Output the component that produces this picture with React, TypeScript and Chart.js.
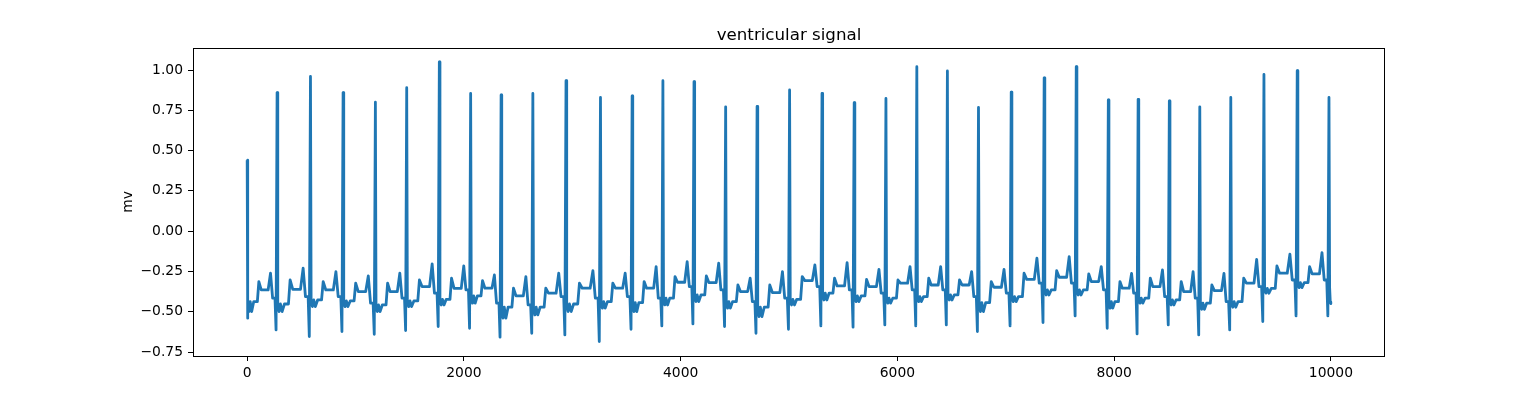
import { useEffect, useRef } from 'react';
import { Chart, registerables } from 'chart.js';
Chart.register(...registerables);

// R-peak sample positions and heights (mv)
const rX = [0, 276, 584, 885, 1183, 1472, 1773, 2062, 2343, 2636, 2942, 3260, 3552, 3836, 4123, 4415, 4705, 5005, 5304, 5601, 5894, 6179, 6461, 6748, 7050, 7354, 7650, 7946, 8221, 8509, 8790, 9076, 9382, 9689, 9982];
const rY = [0.44, 0.86, 0.96, 0.86, 0.80, 0.89, 1.05, 0.855, 0.845, 0.855, 0.934, 0.83, 0.839, 0.934, 0.928, 0.772, 0.774, 0.876, 0.855, 0.797, 0.824, 1.021, 0.994, 0.768, 0.863, 0.952, 1.021, 0.814, 0.818, 0.808, 0.772, 0.83, 0.973, 0.996, 0.83];

// per-beat levels read between consecutive R peaks
const baseY = [-0.437, -0.452, -0.427, -0.433, -0.458, -0.433, -0.423, -0.402, -0.472, -0.472, -0.452, -0.437, -0.443, -0.416, -0.396, -0.437, -0.472, -0.423, -0.385, -0.402, -0.416, -0.406, -0.396, -0.443, -0.406, -0.365, -0.365, -0.437, -0.416, -0.427, -0.447, -0.437, -0.355, -0.32];
const lowY = [-0.499, -0.499, -0.468, -0.468, -0.499, -0.468, -0.458, -0.447, -0.540, -0.520, -0.499, -0.478, -0.499, -0.458, -0.437, -0.478, -0.530, -0.458, -0.427, -0.437, -0.447, -0.437, -0.427, -0.499, -0.437, -0.396, -0.396, -0.478, -0.447, -0.458, -0.485, -0.472, -0.385, -0.35];
const tY = [-0.313, -0.303, -0.313, -0.323, -0.323, -0.303, -0.292, -0.307, -0.354, -0.354, -0.323, -0.323, -0.313, -0.282, -0.278, -0.334, -0.334, -0.282, -0.292, -0.299, -0.303, -0.292, -0.303, -0.313, -0.261, -0.245, -0.265, -0.313, -0.292, -0.313, -0.334, -0.292, -0.216, -0.220];
const plateauY = [-0.365, -0.361, -0.365, -0.375, -0.375, -0.344, -0.355, -0.354, -0.402, -0.385, -0.354, -0.354, -0.354, -0.317, -0.319, -0.375, -0.381, -0.307, -0.340, -0.344, -0.323, -0.334, -0.334, -0.348, -0.299, -0.286, -0.313, -0.354, -0.344, -0.375, -0.369, -0.323, -0.261, -0.265];
const bumpY = [-0.261, -0.230, -0.251, -0.278, -0.261, -0.203, -0.216, -0.272, -0.282, -0.261, -0.245, -0.261, -0.220, -0.189, -0.199, -0.292, -0.251, -0.210, -0.195, -0.237, -0.220, -0.220, -0.251, -0.237, -0.168, -0.158, -0.220, -0.262, -0.241, -0.251, -0.262, -0.175, -0.143, -0.133];
const dropY = [-0.416, -0.406, -0.406, -0.447, -0.416, -0.385, -0.365, -0.447, -0.458, -0.406, -0.416, -0.406, -0.416, -0.344, -0.365, -0.437, -0.416, -0.344, -0.365, -0.385, -0.365, -0.365, -0.406, -0.385, -0.323, -0.323, -0.365, -0.385, -0.406, -0.416, -0.437, -0.344, -0.303, -0.303];
const qY = [-0.613, -0.654, -0.623, -0.640, -0.617, -0.592, -0.603, -0.658, -0.634, -0.644, -0.685, -0.609, -0.588, -0.576, -0.592, -0.634, -0.609, -0.588, -0.596, -0.582, -0.588, -0.582, -0.623, -0.588, -0.567, -0.526, -0.603, -0.638, -0.582, -0.644, -0.613, -0.561, -0.526, -0.526];

const startDipX = 4;
const startDipY = -0.54;
const tailX = [9988, 9994, 9999];
const tailY = [-0.35, -0.44, -0.45];

// where each reading sits within a beat (fraction of the R-R interval)
const beatFractions = [0.02, 0.06, 0.10, 0.15, 0.22, 0.34, 0.39, 0.47, 0.60, 0.70, 0.78, 0.85, 0.93, 0.965];

const xTicks = [0, 2000, 4000, 6000, 8000, 10000];
const yTicks = [-0.75, -0.5, -0.25, 0, 0.25, 0.5, 0.75, 1.0];

function buildPoints() {
  const pts: { x: number; y: number }[] = [];
  for (let i = 0; i < rX.length; i++) {
    pts.push({ x: rX[i], y: rY[i] });
    if (i === 0) pts.push({ x: startDipX, y: startDipY });
    if (i < rX.length - 1) {
      const x0 = rX[i];
      const d = rX[i + 1] - x0;
      const vals = [baseY[i], lowY[i], baseY[i], lowY[i], baseY[i], baseY[i], tY[i], plateauY[i], plateauY[i], plateauY[i], bumpY[i], dropY[i], dropY[i], qY[i]];
      beatFractions.forEach((f, k) => pts.push({ x: x0 + f * d, y: vals[k] }));
    }
  }
  tailX.forEach((x, k) => pts.push({ x, y: tailY[k] }));
  return pts;
}

const FONT = 'DejaVu Sans';

const framePlugin = {
  id: 'frameAndTitles',
  afterDraw(chart: any) {
    const { ctx, chartArea: a } = chart;
    ctx.save();
    ctx.strokeStyle = '#000';
    ctx.lineWidth = 1;
    ctx.strokeRect(Math.round(a.left) + 0.5, Math.round(a.top) + 0.5, Math.round(a.right - a.left) - 1, Math.round(a.bottom - a.top));
    ctx.fillStyle = '#000';
    ctx.font = `16.67px "${FONT}"`;
    ctx.textAlign = 'center';
    ctx.textBaseline = 'alphabetic';
    ctx.fillText('ventricular signal', (a.left + a.right) / 2, a.top - 8.3);
    ctx.font = `13.89px "${FONT}"`;
    ctx.translate(132, (a.top + a.bottom) / 2);
    ctx.rotate(-Math.PI / 2);
    ctx.fillText('mv', 0, 0);
    ctx.restore();
  },
};

export default function App() {
  const ref = useRef<HTMLCanvasElement | null>(null);
  useEffect(() => {
    document.body.style.margin = '0';
    if (!ref.current) return;
    const chart = new Chart(ref.current, {
      type: 'line',
      data: {
        datasets: [
          {
            data: buildPoints(),
            borderColor: '#1f77b4',
            borderWidth: 2.8,
            borderJoinStyle: 'round',
            pointRadius: 0,
            tension: 0,
            fill: false,
          },
        ],
      },
      options: {
        animation: false,
        responsive: true,
        maintainAspectRatio: false,
        parsing: false,
        layout: { padding: { left: 115, right: 155, top: 48, bottom: 0 } },
        plugins: { legend: { display: false }, title: { display: false }, tooltip: { enabled: false } },
        scales: {
          x: {
            type: 'linear',
            min: -499.95,
            max: 10498.95,
            afterBuildTicks: (s: any) => { s.ticks = xTicks.map((v) => ({ value: v })); },
            afterFit: (s: any) => { s.height = 44; },
            grid: { drawOnChartArea: false, drawTicks: true, tickLength: 5, tickColor: '#000', tickWidth: 1 },
            border: { display: false },
            ticks: { color: '#000', font: { family: FONT, size: 13.89 }, padding: 4, maxRotation: 0, autoSkip: false, callback: (v: any) => String(v) },
          },
          y: {
            type: 'linear',
            min: -0.7748,
            max: 1.1368,
            afterBuildTicks: (s: any) => { s.ticks = yTicks.map((v) => ({ value: v })); },
            afterFit: (s: any) => { s.width = 78; },
            grid: { drawOnChartArea: false, drawTicks: true, tickLength: 5, tickColor: '#000', tickWidth: 1 },
            border: { display: false },
            ticks: {
              color: '#000',
              font: { family: FONT, size: 13.89 },
              padding: 5,
              autoSkip: false,
              callback: (v: any) => (Number(v) < 0 ? '\u2212' : '') + Math.abs(Number(v)).toFixed(2),
            },
          },
        },
      },
      plugins: [framePlugin],
    } as any);
    return () => chart.destroy();
  }, []);
  return (
    <div style={{ position: 'fixed', left: 0, top: 0, width: 1540, height: 400, background: '#fff' }}>
      <canvas ref={ref} />
    </div>
  );
}
